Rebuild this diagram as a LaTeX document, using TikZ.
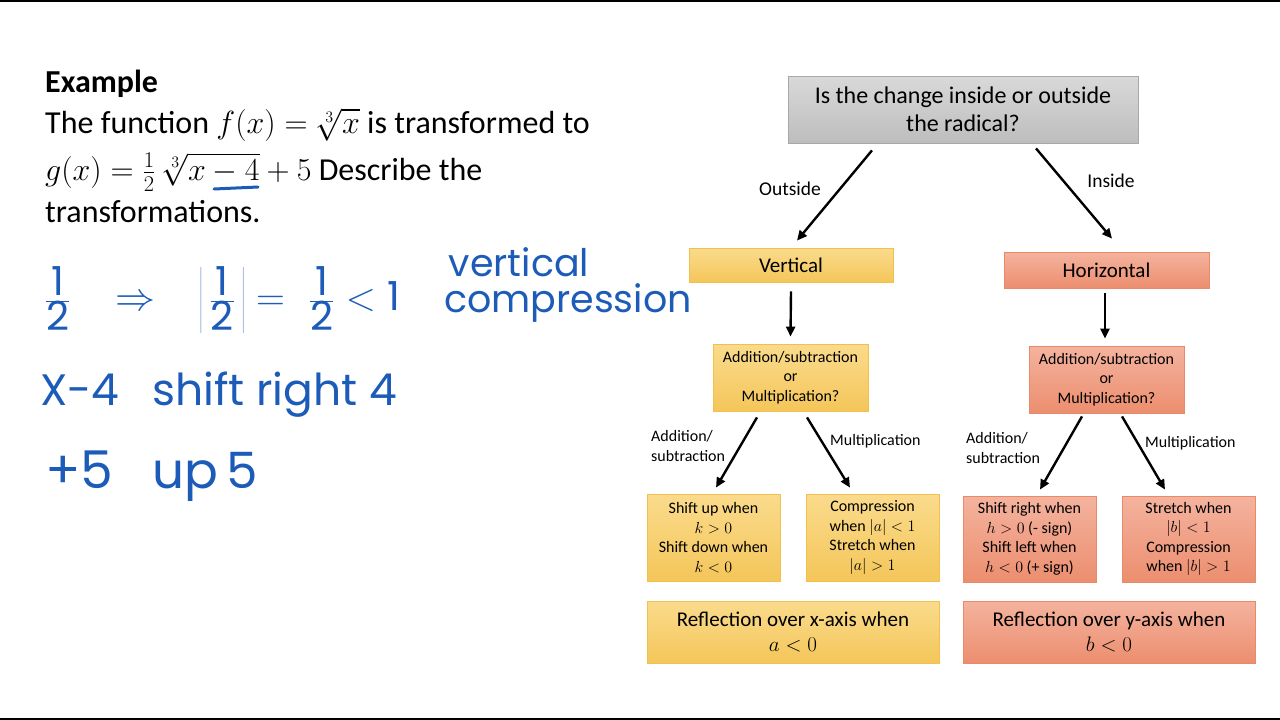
\RequirePackage{fix-cm}
\documentclass[tikz,border=0pt]{standalone}
\usepackage{fontspec}
\setmainfont{Carlito}
\newfontfamily\hand{Poppins}
\usetikzlibrary{arrows.meta}
\definecolor{greytop}{HTML}{D9D9D9}
\definecolor{greybot}{HTML}{BDBDBD}
\definecolor{greyline}{HTML}{A8A8A8}
\definecolor{yeltop}{HTML}{FADB8C}
\definecolor{yelbot}{HTML}{F4C65A}
\definecolor{yelline}{HTML}{F2C04C}
\definecolor{redtop}{HTML}{F4B39E}
\definecolor{redbot}{HTML}{EC8E6F}
\definecolor{redline}{HTML}{E8896A}
\definecolor{inkblue}{HTML}{1C5CB8}
\begin{document}
\begin{tikzpicture}[
  x=1pt, y=-1pt,
  every node/.style={inner sep=0pt},
  box/.style={draw, line width=0.8pt, align=center},
  greybox/.style={box, draw=greyline, top color=greytop, bottom color=greybot},
  yellowbox/.style={box, draw=yelline, top color=yeltop, bottom color=yelbot},
  redbox/.style={box, draw=redline, top color=redtop, bottom color=redbot},
  small/.style={font=\fontsize{16}{19.5}\selectfont},
  big/.style={font=\fontsize{21}{25}\selectfont},
  lbl/.style={align=left, font=\fontsize{16}{19.5}\selectfont},
  txt/.style={anchor=base west, font=\fontsize{32}{38}\selectfont},
  arr/.style={-{Triangle[length=10pt,width=9pt]}, line width=2.4pt},
  ink/.style={text=inkblue, font=\hand\fontsize{38}{44}\selectfont},
  bigink/.style={text=inkblue, font=\hand\fontsize{44}{50}\selectfont}
]
  \useasboundingbox (0,0) rectangle (1280,720);
  \fill (0,0) rectangle (1280,2);
  \fill (0,718) rectangle (1280,720);

  % example text
  \node[txt, font=\bfseries\fontsize{32}{38}\selectfont] (ex) at (45,92) {Example};
  \node[txt] (l1) at (45,133) {The function $f(x)=\sqrt[3]{x}$ is transformed to};
  \node[txt] (l2) at (45,180) {$g(x)=\frac{1}{2}\mkern4mu\sqrt[3]{x-4}+5$ Describe the};
  \node[txt] (l3) at (45,222) {transformations.};

  % handwriting
  \draw[inkblue, line width=3pt, line cap=round] (214,189) -- (258,187);
  \node[ink, anchor=west, font=\hand\fontsize{40}{46}\selectfont] (h1) at (45,300)
    {$\frac{\mbox{1}}{\mbox{2}}\mkern15mu\Rightarrow\mkern15mu\left|\mkern3mu\frac{\mbox{1}}{\mbox{2}}\mkern3mu\right|=\mkern6mu\frac{\mbox{1}}{\mbox{2}}<\mbox{1}$};
  \node[ink] (h2) at (519,262) {vertical};
  \node[ink] (h3) at (568,303) {compression};
  \node[bigink, anchor=base west] (h4) at (40,405) {X-4};
  \node[bigink, anchor=base west] (h5) at (152,405) {shift right 4};
  \node[bigink, anchor=base west, font=\hand\fontsize{52}{58}\selectfont] (h6) at (45,488) {+5};
  \node[bigink, anchor=base west, font=\hand\fontsize{50}{56}\selectfont] (h7) at (152,488) {up\hspace{8pt}5};

  % flow chart
  \node[greybox, minimum width=350, minimum height=67, font=\fontsize{24}{28}\selectfont] (q) at (963,109.5)
    {Is the change inside or outside\\the radical?};
  \node[yellowbox, minimum width=204, minimum height=34, big] (vert) at (791,265) {Vertical};
  \node[redbox, minimum width=205, minimum height=36, big] (horiz) at (1106.5,270) {Horizontal};
  \node[yellowbox, minimum width=155, minimum height=67, small] (vq) at (790.5,377.5)
    {Addition/subtraction\\or\\Multiplication?};
  \node[redbox, minimum width=155, minimum height=67, small] (hq) at (1106.5,379.5)
    {Addition/subtraction\\or\\Multiplication?};
  \node[yellowbox, minimum width=133, minimum height=87, small] (vadd) at (713.5,537.5)
    {Shift up when\\$k>0$\\Shift down when\\$k<0$};
  \node[yellowbox, minimum width=133, minimum height=87, small] (vmul) at (872.5,537.5)
    {Compression\\when $|a|<1$\\Stretch when\\$|a|>1$};
  \node[redbox, minimum width=133, minimum height=86, small] (hadd) at (1029.5,539)
    {Shift right when\\$h>0$ (- sign)\\Shift left when\\$h<0$ (+ sign)};
  \node[redbox, minimum width=133, minimum height=86, small] (hmul) at (1188.5,539)
    {Stretch when\\$|b|<1$\\Compression\\when $|b|>1$};
  \node[yellowbox, minimum width=292, minimum height=62, big] (vref) at (793,632)
    {Reflection over x-axis when\\$a<0$};
  \node[redbox, minimum width=292, minimum height=62, big] (href) at (1109,632)
    {Reflection over y-axis when\\$b<0$};

  \draw[arr] ([shift={(-91,7)}]q.south) -- ([shift={(6,-7)}]vert.north);
  \draw[arr] ([shift={(73,5)}]q.south) -- ([shift={(5.5,-13)}]horiz.north);
  \draw[arr] ([shift={(0,9)}]vert.south) -- ([shift={(0,-7)}]vq.north);
  \draw[arr] ([shift={(-1.5,5)}]horiz.south) -- ([shift={(-1.5,-7)}]hq.north);
  \draw[arr] ([shift={(-33.5,6)}]vq.south) -- ([shift={(2.5,-6)}]vadd.north);
  \draw[arr] ([shift={(16.5,6)}]vq.south) -- ([shift={(-22.5,-6)}]vmul.north);
  \draw[arr] ([shift={(-24.5,3)}]hq.south) -- ([shift={(10.5,-6)}]hadd.north);
  \draw[arr] ([shift={(15.5,3)}]hq.south) -- ([shift={(-23.5,-6)}]hmul.north);

  \node[lbl, font=\fontsize{19.5}{23}\selectfont] (out) at (790,189) {Outside};
  \node[lbl, font=\fontsize{19.5}{23}\selectfont] (in) at (1111,181) {Inside};
  \node[lbl, anchor=west] (vaddl) at (651,446) {Addition/\\subtraction};
  \node[lbl, anchor=west] (vmull) at (830,441) {Multiplication};
  \node[lbl, anchor=west] (haddl) at (966,448) {Addition/\\subtraction};
  \node[lbl, anchor=west] (hmull) at (1145,443) {Multiplication};
\end{tikzpicture}
\end{document}
